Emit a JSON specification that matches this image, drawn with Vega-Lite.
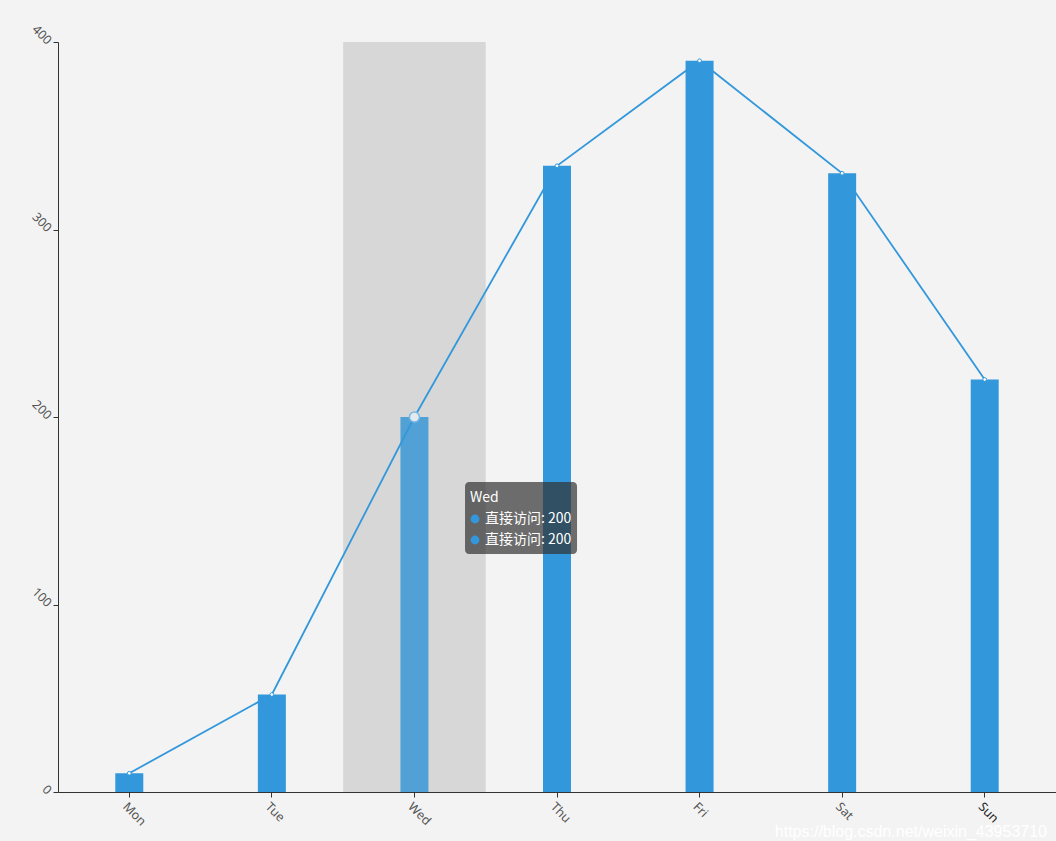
{
  "$schema": "https://vega.github.io/schema/vega-lite/v6.json",
  "width": 998,
  "height": 750,
  "autosize": {"type": "none"},
  "padding": {"left": 58, "top": 42, "right": 0, "bottom": 49},
  "background": "#f3f3f3",
  "config": {
    "view": {"stroke": null},
    "font": "Noto Sans",
    "axis": {"labelFont": "Noto Sans", "labelFontSize": 12.5, "labelColor": "#555555"}
  },
  "title": {
    "text": "https://blog.csdn.net/weixin_43953710",
    "orient": "bottom",
    "anchor": "end",
    "color": "#ffffff",
    "fontSize": 16,
    "font": "Liberation Sans",
    "fontWeight": "normal",
    "offset": -4,
    "dx": -9
  },
  "data": {
    "values": [
      {"day": "Mon", "visits": 10},
      {"day": "Tue", "visits": 52},
      {"day": "Wed", "visits": 200},
      {"day": "Thu", "visits": 334},
      {"day": "Fri", "visits": 390},
      {"day": "Sat", "visits": 330},
      {"day": "Sun", "visits": 220}
    ]
  },
  "encoding": {
    "x": {
      "field": "day",
      "type": "nominal",
      "sort": null,
      "scale": {
        "domain": ["Mon", "Tue", "Wed", "Thu", "Fri", "Sat", "Sun"],
        "paddingInner": 0,
        "paddingOuter": 0
      },
      "axis": {
        "title": null,
        "labelAngle": 45,
        "labelAlign": "left",
        "labelBaseline": "top",
        "labelPadding": 3,
        "labelColor": {"condition": {"test": "datum.value === 'Sun'", "value": "#222222"}, "value": "#555555"},
        "domainColor": "#333333",
        "tickColor": "#333333",
        "tickSize": 5,
        "grid": false
      }
    }
  },
  "layer": [
    {
      "transform": [{"filter": "datum.day === 'Wed'"}],
      "mark": {"type": "bar", "color": "#d7d7d7", "width": {"band": 1}},
      "encoding": {
        "y": {"datum": 400, "type": "quantitative", "scale": {"domain": [0, 400]}}
      }
    },
    {
      "mark": {"type": "bar", "width": 28},
      "encoding": {
        "y": {
          "field": "visits",
          "type": "quantitative",
          "scale": {"domain": [0, 400]},
          "axis": {
            "title": null,
            "values": [0, 100, 200, 300, 400],
            "labelAngle": 45,
            "labelAlign": "right",
            "labelBaseline": "middle",
            "labelPadding": 4,
            "domainColor": "#333333",
            "tickColor": "#333333",
            "tickSize": 5,
            "gridColor": "#c8c8c8",
            "gridWidth": 1
          }
        },
        "color": {
          "condition": {"test": "datum.day === 'Wed'", "value": "#52a1d6"},
          "value": "#3398db"
        }
      }
    },
    {
      "mark": {"type": "line", "color": "#3398db", "strokeWidth": 1.8},
      "encoding": {"y": {"field": "visits", "type": "quantitative"}}
    },
    {
      "transform": [{"filter": "datum.day !== 'Wed'"}],
      "mark": {"type": "point", "filled": true, "fill": "#ffffff", "stroke": "#3398db", "strokeWidth": 1, "size": 14, "opacity": 1},
      "encoding": {"y": {"field": "visits", "type": "quantitative"}}
    },
    {
      "transform": [{"filter": "datum.day === 'Wed'"}],
      "mark": {"type": "point", "filled": true, "fill": "#e2e9ef", "stroke": "#7db8e2", "strokeWidth": 1.5, "size": 100, "opacity": 1},
      "encoding": {"y": {"field": "visits", "type": "quantitative"}}
    },
    {
      "transform": [{"filter": "datum.day === 'Wed'"}],
      "mark": {"type": "bar", "width": 112, "xOffset": 106.6, "color": "#323232", "opacity": 0.7, "cornerRadius": 4},
      "encoding": {
        "y": {"datum": 165.3, "type": "quantitative"},
        "y2": {"datum": 126.9}
      }
    },
    {
      "transform": [{"filter": "datum.day === 'Wed'"}],
      "mark": {"type": "text", "align": "left", "baseline": "middle", "dx": 55.6, "color": "#ffffff", "fontSize": 14, "font": "Noto Sans CJK SC"},
      "encoding": {
        "y": {"datum": 156.8, "type": "quantitative"},
        "text": {"field": "day"}
      }
    },
    {
      "transform": [{"filter": "datum.day === 'Wed'"}],
      "mark": {"type": "point", "filled": true, "color": "#3398db", "size": 78, "xOffset": 60.6, "opacity": 1},
      "encoding": {"y": {"datum": 145.6, "type": "quantitative"}}
    },
    {
      "transform": [{"filter": "datum.day === 'Wed'"}],
      "mark": {"type": "point", "filled": true, "color": "#3398db", "size": 78, "xOffset": 60.6, "opacity": 1},
      "encoding": {"y": {"datum": 134.4, "type": "quantitative"}}
    },
    {
      "transform": [{"filter": "datum.day === 'Wed'"}],
      "mark": {"type": "text", "align": "left", "baseline": "middle", "dx": 70.6, "color": "#ffffff", "fontSize": 14, "font": "Noto Sans CJK SC"},
      "encoding": {
        "y": {"datum": 145.6, "type": "quantitative"},
        "text": {"value": "直接访问: 200"}
      }
    },
    {
      "transform": [{"filter": "datum.day === 'Wed'"}],
      "mark": {"type": "text", "align": "left", "baseline": "middle", "dx": 70.6, "color": "#ffffff", "fontSize": 14, "font": "Noto Sans CJK SC"},
      "encoding": {
        "y": {"datum": 134.4, "type": "quantitative"},
        "text": {"value": "直接访问: 200"}
      }
    }
  ]
}
